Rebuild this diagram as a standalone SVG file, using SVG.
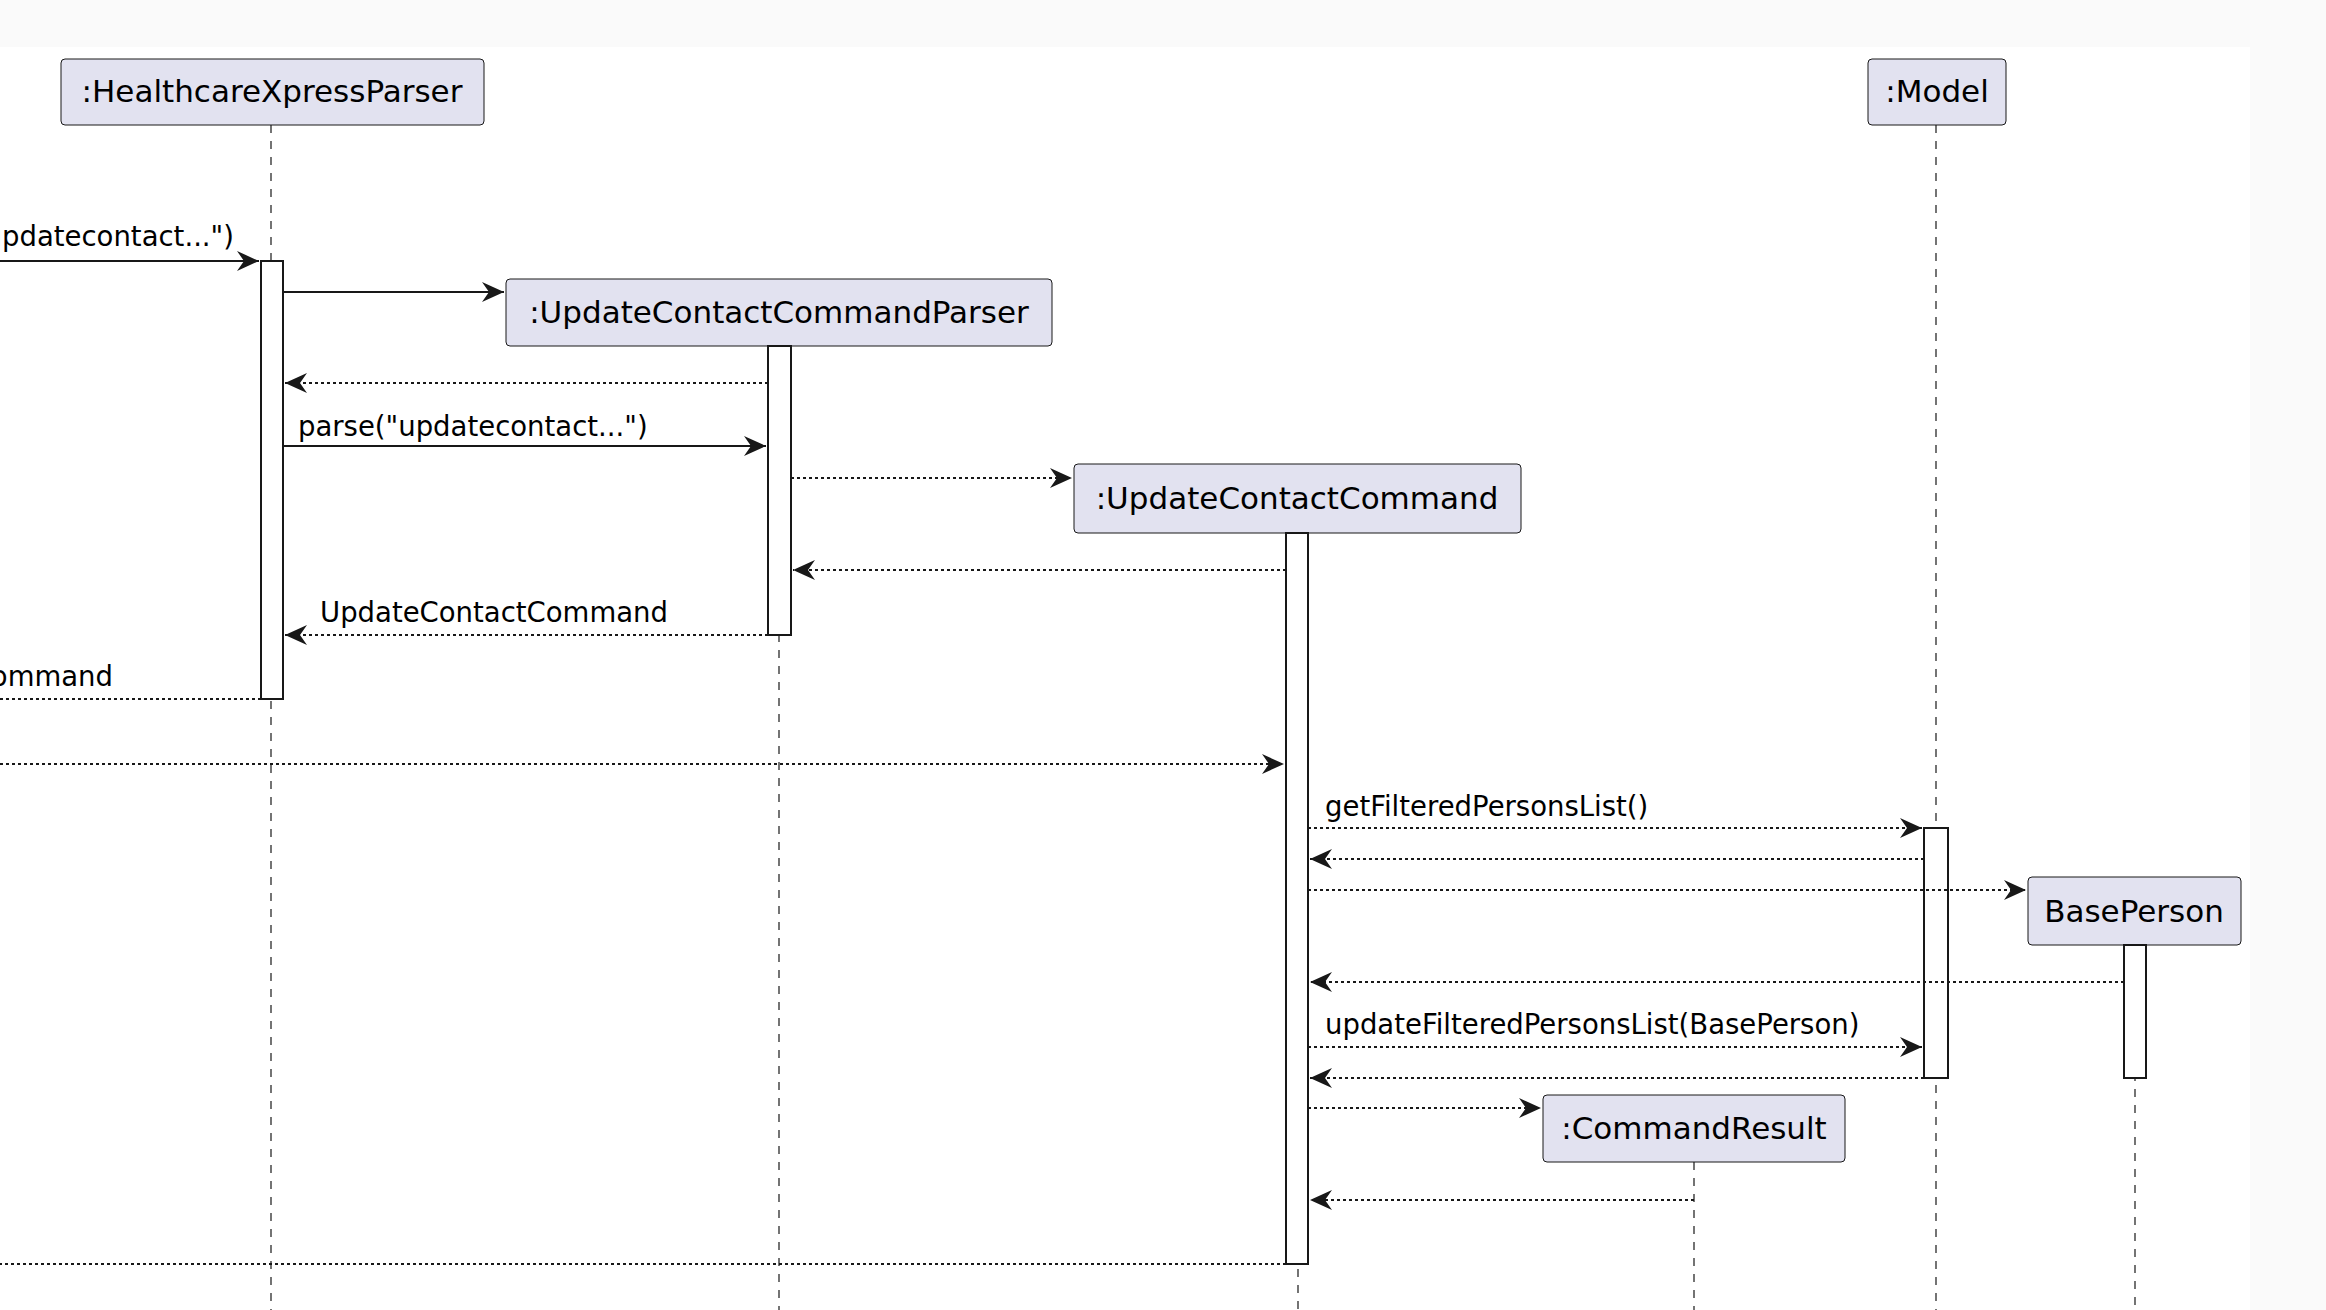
<svg xmlns="http://www.w3.org/2000/svg" width="2326" height="1310" viewBox="0 0 2326 1310">
<style>
.bg{fill:#fafafa}
.box{fill:#E2E2F0;stroke:#181818;stroke-width:1;}
.act{fill:#ffffff;stroke:#181818;stroke-width:2}
.life{stroke:#181818;stroke-width:1.2;stroke-dasharray:8,8;fill:none}
.msg{stroke:#181818;stroke-width:2;fill:none;marker-end:url(#arr)}
.dot{stroke-dasharray:3,3}
.pt{font-family:"DejaVu Sans",sans-serif;font-size:31px;fill:#000;text-anchor:middle}
.lb{font-family:"DejaVu Sans",sans-serif;font-size:27.5px;fill:#000}
</style>
<defs>
<marker id="arr" markerUnits="userSpaceOnUse" markerWidth="26" markerHeight="22" refX="22" refY="10" orient="auto">
<path d="M0,0 L22,10 L0,20 L7,10 Z" fill="#181818"/>
</marker>
</defs>
<rect x="0" y="0" width="2326" height="1310" class="bg"/>
<rect x="0" y="47" width="2250" height="1263" fill="#ffffff"/>
<g id="lifelines">
<line class="life" x1="271" y1="125" x2="271" y2="1310"/>
<line class="life" x1="779" y1="346" x2="779" y2="1310"/>
<line class="life" x1="1298" y1="533" x2="1298" y2="1310"/>
<line class="life" x1="1936" y1="125" x2="1936" y2="1310"/>
<line class="life" x1="2135" y1="945" x2="2135" y2="1310"/>
<line class="life" x1="1694" y1="1162" x2="1694" y2="1310"/>
</g>
<g id="hxp"><rect class="box" x="61" y="59" width="423" height="66" rx="4"/><text class="pt" x="272" y="102">:HealthcareXpressParser</text></g>
<g id="model"><rect class="box" x="1868" y="59" width="138" height="66" rx="4"/><text class="pt" x="1937" y="102">:Model</text></g>
<g id="uccp"><rect class="box" x="506" y="279" width="546" height="67" rx="4"/><text class="pt" x="779" y="323">:UpdateContactCommandParser</text></g>
<g id="ucc"><rect class="box" x="1074" y="464" width="447" height="69" rx="4"/><text class="pt" x="1297" y="509">:UpdateContactCommand</text></g>
<g id="baseperson"><rect class="box" x="2028" y="877" width="213" height="68" rx="4"/><text class="pt" x="2134" y="922">BasePerson</text></g>
<g id="commandresult"><rect class="box" x="1543" y="1095" width="302" height="67" rx="4"/><text class="pt" x="1694" y="1139">:CommandResult</text></g>
<g id="activations">
<rect class="act" x="261" y="261" width="22" height="438"/>
<rect class="act" x="768" y="346" width="23" height="289"/>
<rect class="act" x="1286" y="533" width="22" height="731"/>
<rect class="act" x="1924" y="828" width="24" height="250"/>
<rect class="act" x="2124" y="945" width="22" height="133"/>
</g>
<g id="connectors">
<line class="msg" x1="0" y1="261" x2="259" y2="261"/>
<text class="lb" x="234" y="246" text-anchor="end">execute("updatecontact...")</text>
<line class="msg" x1="283" y1="292" x2="504" y2="292"/>
<line class="msg dot" x1="768" y1="383" x2="285" y2="383"/>
<line class="msg" x1="283" y1="446" x2="766" y2="446"/>
<text class="lb" x="298" y="436">parse("updatecontact...")</text>
<line class="msg dot" x1="791" y1="478" x2="1072" y2="478"/>
<line class="msg dot" x1="1286" y1="570" x2="793" y2="570"/>
<line class="msg dot" x1="768" y1="635" x2="285" y2="635"/>
<text class="lb" x="320" y="622">UpdateContactCommand</text>
<line class="msg dot" x1="261" y1="699" x2="0" y2="699" style="marker-end:none"/>
<text class="lb" x="113" y="686" text-anchor="end">UpdateContactCommand</text>
<line class="msg dot" x1="0" y1="764" x2="1284" y2="764"/>
<line class="msg dot" x1="1308" y1="828" x2="1922" y2="828"/>
<text class="lb" x="1325" y="816">getFilteredPersonsList()</text>
<line class="msg dot" x1="1924" y1="859" x2="1310" y2="859"/>
<line class="msg dot" x1="1308" y1="890" x2="2026" y2="890"/>
<line class="msg dot" x1="2124" y1="982" x2="1310" y2="982"/>
<line class="msg dot" x1="1308" y1="1047" x2="1922" y2="1047"/>
<text class="lb" x="1325" y="1034">updateFilteredPersonsList(BasePerson)</text>
<line class="msg dot" x1="1924" y1="1078" x2="1310" y2="1078"/>
<line class="msg dot" x1="1308" y1="1108" x2="1541" y2="1108"/>
<line class="msg dot" x1="1694" y1="1200" x2="1310" y2="1200"/>
<line class="msg dot" x1="1286" y1="1264" x2="0" y2="1264" style="marker-end:none"/>
</g>
</svg>
